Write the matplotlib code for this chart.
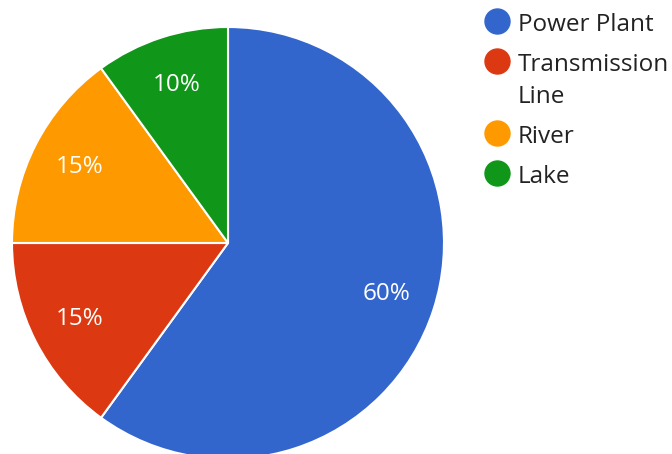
import matplotlib
matplotlib.use('Agg')
import matplotlib.pyplot as plt

plt.rcParams['font.family'] = ['Open Sans', 'DejaVu Sans']

# data
labels = ['Power Plant', 'Transmission\nLine', 'River', 'Lake']
shares = [60, 15, 15, 10]
colors = ['#3366cc', '#dc3912', '#ff9900', '#109618']

W, H = 672, 454
fig = plt.figure(figsize=(W / 100, H / 100), dpi=100)
ax = fig.add_axes([0, 0, 1, 1])

# pie, centre and radius in pixel units
wedges, texts, autotexts = ax.pie(
    shares, colors=colors, startangle=90, counterclock=False,
    center=(228, H - 243), radius=216, frame=True,
    autopct='%d%%', pctdistance=0.77,
    wedgeprops=dict(edgecolor='white', linewidth=1.5),
    textprops=dict(color='white', fontsize=17.5))
ax.set_xlim(0, W)
ax.set_ylim(0, H)
ax.axis('off')

# legend drawn by hand (Google Charts style)
y = H - 21
for lab, col in zip(labels, colors):
    ax.plot(497, y, 'o', color=col, markersize=18, clip_on=False)
    for i, line in enumerate(lab.split('\n')):
        ax.text(518, y - 10 - 32 * i, line, va='baseline', ha='left',
                fontsize=17.5, color='#222222')
    y -= 40 + 32 * lab.count('\n')

fig.savefig('out.png', dpi=100, facecolor='white')
